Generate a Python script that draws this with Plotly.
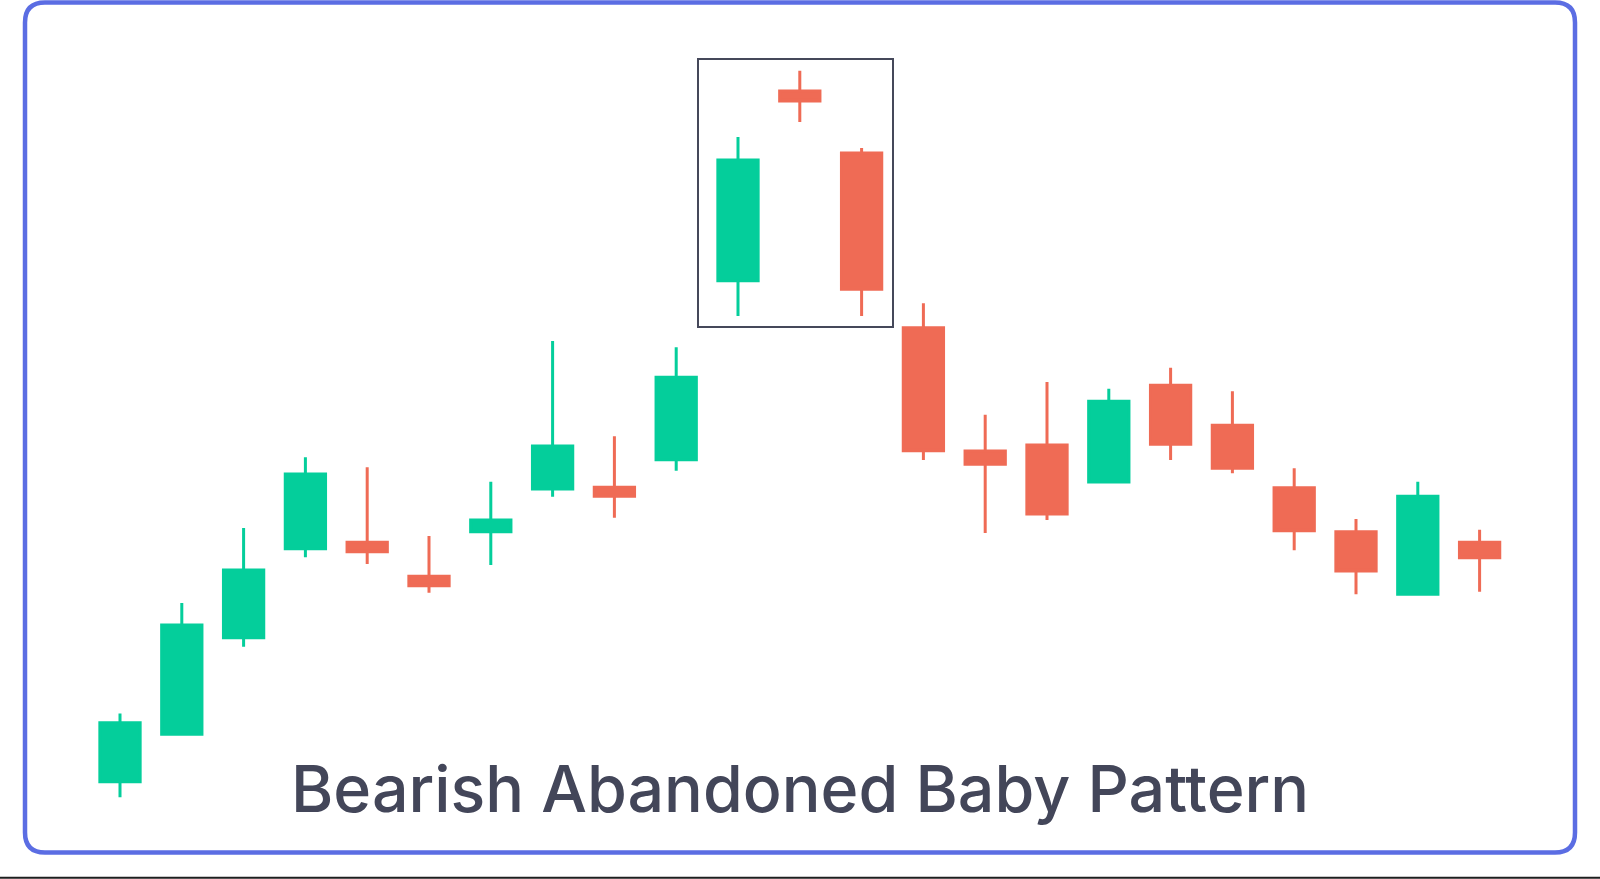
import plotly.graph_objects as go

W, H = 1600, 879

# ---- data (price units) ----
sessions = list(range(1, 24))
open_ = [9.73, 14.47, 24.13, 33.03, 33.67, 30.27, 34.73, 39.00, 39.17, 41.93, 59.83, 78.80,
         72.60, 55.13, 42.80, 43.40, 39.70, 49.37, 45.37, 39.13, 34.73, 28.47, 33.67]
high = [16.56, 27.60, 35.10, 42.17, 41.17, 34.30, 39.73, 53.80, 44.27, 53.17, 74.20, 80.83,
        73.10, 57.57, 46.43, 49.70, 49.03, 51.13, 48.77, 41.07, 36.00, 39.73, 34.93]
low = [8.17, 14.47, 23.23, 32.17, 31.50, 28.63, 31.40, 38.23, 36.13, 40.83, 56.30, 75.70,
       56.30, 41.90, 34.60, 35.90, 39.70, 41.90, 40.57, 32.87, 28.47, 28.47, 28.73]
close = [15.63, 25.40, 30.90, 40.50, 32.73, 29.33, 35.90, 43.30, 38.27, 50.17, 71.90, 77.80,
         58.97, 42.83, 41.47, 36.50, 47.77, 43.47, 41.07, 34.83, 30.80, 38.27, 32.13]

title_text = "Bearish Abandoned Baby Pattern"
GREEN = "#04CE9B"
RED = "#EF6B55"

fig = go.Figure()
fig.add_trace(go.Candlestick(
    x=sessions, open=open_, high=high, low=low, close=close,
    increasing=dict(line=dict(color=GREEN, width=3), fillcolor=GREEN),
    decreasing=dict(line=dict(color=RED, width=3), fillcolor=RED),
    whiskerwidth=0, hoverinfo="skip", showlegend=False,
))

def px(x):
    return x / W

def py(y):
    return 1 - y / H

# rounded border (pixel geometry converted to paper)
L, R, T, B, r = 25, 1575, 2.5, 852.5, 20
path = (f"M {px(L + r)},{py(T)} L {px(R - r)},{py(T)} Q {px(R)},{py(T)} {px(R)},{py(T + r)} "
        f"L {px(R)},{py(B - r)} Q {px(R)},{py(B)} {px(R - r)},{py(B)} "
        f"L {px(L + r)},{py(B)} Q {px(L)},{py(B)} {px(L)},{py(B - r)} "
        f"L {px(L)},{py(T + r)} Q {px(L)},{py(T)} {px(L + r)},{py(T)} Z")
fig.add_shape(type="path", path=path, xref="paper", yref="paper",
              line=dict(color="#5B6DE3", width=4.5), layer="below")

# highlight box around the pattern
fig.add_shape(type="rect", xref="paper", yref="paper",
              x0=px(698), x1=px(893), y0=py(59), y1=py(327),
              line=dict(color="#45485A", width=2))

# bottom dark line
fig.add_shape(type="line", xref="paper", yref="paper",
              x0=0, x1=1, y0=py(877.7), y1=py(877.7),
              line=dict(color="#1E1E1E", width=2))

fig.add_annotation(text=title_text, x=0.5, y=py(789), xref="paper", yref="paper",
                   xanchor="center", yanchor="middle", showarrow=False,
                   font=dict(family="Inter", size=64.5, weight=500, color="#434659"))

step = 61.8
x0 = 120.0
fig.update_layout(
    width=W, height=H, margin=dict(l=0, r=0, t=0, b=0),
    paper_bgcolor="white", plot_bgcolor="white",
    boxgap=0.348, boxgroupgap=0,
    xaxis=dict(visible=False, rangeslider=dict(visible=False),
               range=[1 - x0 / step, 1 + (W - x0) / step], fixedrange=True),
    yaxis=dict(visible=False, range=[0, H / 10], fixedrange=True),
    showlegend=False,
)

fig.write_html("out.html", config={"displayModeBar": False},
               post_script="document.body.style.margin='0';document.body.style.overflow='hidden';")
